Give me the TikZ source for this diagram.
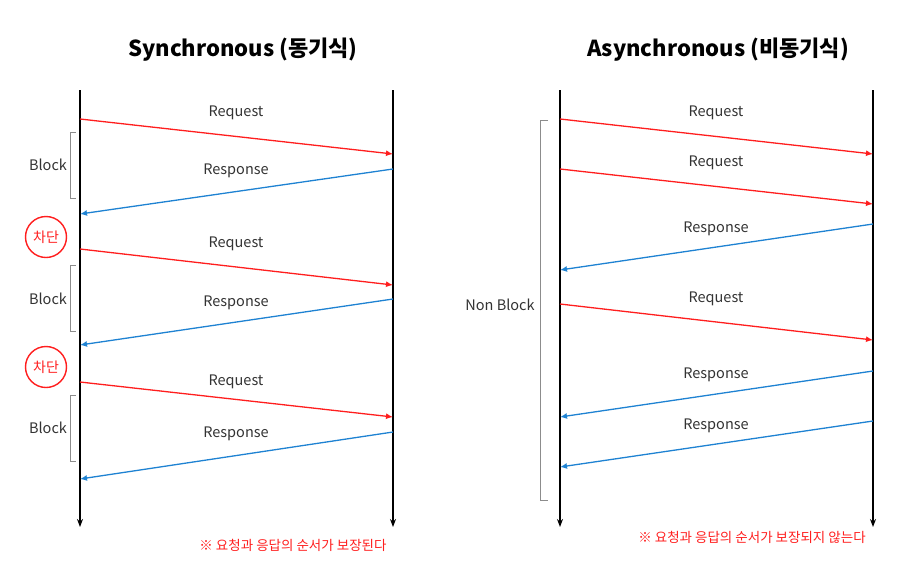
\documentclass[tikz,border=0pt]{standalone}
\usepackage{fontspec}
\setmainfont{Noto Sans CJK KR}
\usetikzlibrary{arrows.meta}
\definecolor{req}{RGB}{255,30,30}
\definecolor{resp}{RGB}{30,130,210}
\begin{document}
\begin{tikzpicture}[x=1pt,y=-1pt,
  tl/.style={line width=1.6pt,-{Stealth[length=8pt,width=6pt]}},
  reqa/.style={req,line width=1.3pt,-{Latex[length=7pt,width=6pt]}},
  respa/.style={resp,line width=1.3pt,-{Latex[length=7pt,width=6pt]}},
  lbl/.style={font=\fontsize{14.5}{17}\selectfont,text=black!80},
  brk/.style={draw=black!45,line width=1pt},
  cut/.style={circle,draw=req,line width=1.4pt,minimum size=41pt,inner sep=0pt,text=req,font=\fontsize{14}{16}\selectfont},
  note/.style={text=req,font=\fontsize{13.5}{15}\selectfont},
  title/.style={font=\fontsize{22}{25}\selectfont\bfseries}]
\useasboundingbox (0,0) rectangle (908,574);
\node[title] (t1) at (243,50) {Synchronous (동기식)};
\node[title] (t2) at (718,50) {Asynchronous (비동기식)};
\coordinate (a0) at (80,90); \coordinate (a1) at (80,527);
\coordinate (b0) at (393,90); \coordinate (b1) at (393,527);
\coordinate (c0) at (560,90); \coordinate (c1) at (560,527);
\coordinate (d0) at (873,90); \coordinate (d1) at (873,527);
\draw[tl] (a0)--(a1); \draw[tl] (b0)--(b1);
\draw[tl] (c0)--(c1); \draw[tl] (d0)--(d1);
% sync
\foreach \s/\e/\l/\n in {119/154/113/1,249/285/244/2,382/417/382/3}{
  \coordinate (sq\n s) at (80,\s); \coordinate (sq\n e) at (393,\e);
  \draw[reqa] (sq\n s)--(sq\n e);
  \node[lbl] (sql\n) at (236,\l) {Request};}
\foreach \s/\e/\l/\n in {169/214/171/1,299/345/303/2,432/479/434/3}{
  \coordinate (sp\n s) at (393,\s); \coordinate (sp\n e) at (80,\e);
  \draw[respa] (sp\n s)--(sp\n e);
  \node[lbl] (spl\n) at (236,\l) {Response};}
\foreach \a/\b/\m/\n in {132/198/165/1,265/331/299/2,395/461/428/3}{
  \draw[brk] (76,\a)--(70,\a)--(70,\b)--(76,\b);
  \node[lbl] (bl\n) at (48,\m) {Block};}
\node[cut] (x1) at (46,237) {차단};
\node[cut] (x2) at (46,367) {차단};
% async
\foreach \s/\e/\l/\n in {119/154/113/1,169/204/163/2,304/340/299/3}{
  \coordinate (aq\n s) at (560,\s); \coordinate (aq\n e) at (873,\e);
  \draw[reqa] (aq\n s)--(aq\n e);
  \node[lbl] (aql\n) at (716,\l) {Request};}
\foreach \s/\e/\l/\n in {224/270/229/1,371/417/375/2,421/467/426/3}{
  \coordinate (ap\n s) at (873,\s); \coordinate (ap\n e) at (560,\e);
  \draw[respa] (ap\n s)--(ap\n e);
  \node[lbl] (apl\n) at (716,\l) {Response};}
\draw[brk] (548,120)--(540,120)--(540,500)--(548,500);
\node[lbl] (nb) at (500,305) {Non Block};
\node[note] (n1) at (293,545) {※ 요청과 응답의 순서가 보장된다};
\node[note] (n2) at (752,537) {※ 요청과 응답의 순서가 보장되지 않는다};
\end{tikzpicture}
\end{document}
